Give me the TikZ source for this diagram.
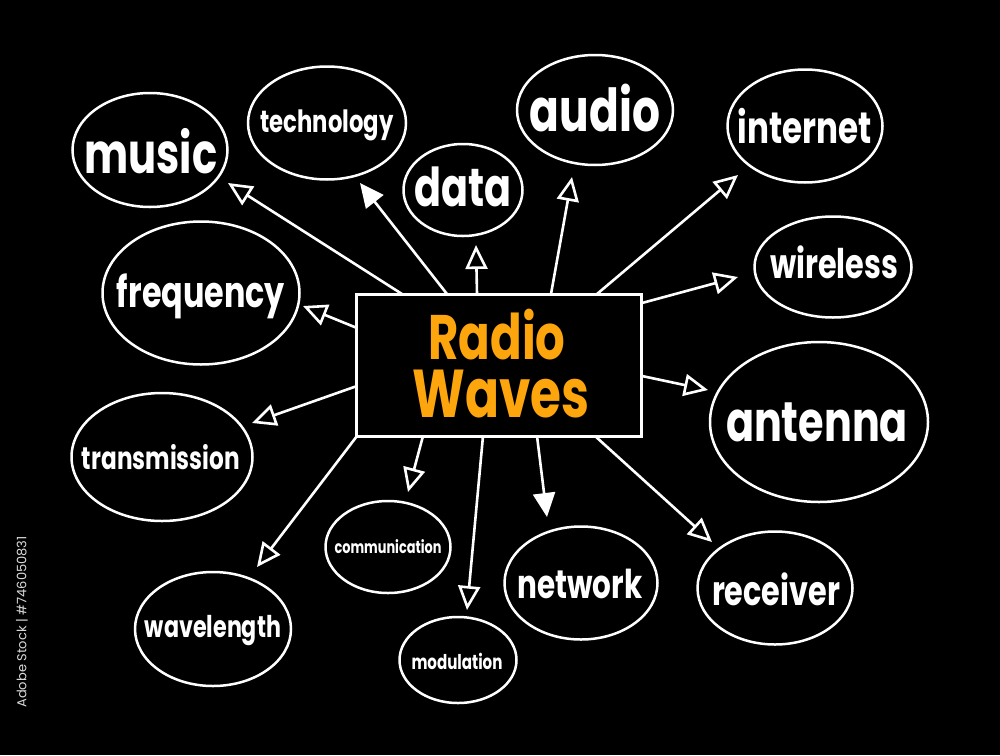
\documentclass[tikz,border=0pt]{standalone}
\usepackage{fontspec}
\setmainfont{Poppins}
\usetikzlibrary{shapes.geometric,arrows.meta}
\definecolor{ora}{RGB}{253,165,12}
\newcommand{\fitw}[2]{\scalebox{1}[1.35]{\resizebox{#1}{!}{#2}}}
\begin{document}
\begin{tikzpicture}[x=1pt,y=-1pt,
  bub/.style={ellipse, draw=white, line width=2.5pt, inner sep=0pt},
  txt/.style={text=white, font=\bfseries, inner sep=0pt},
  arr/.style={white, line width=2.6pt, -{Triangle[fill=black,length=24pt,width=22pt]}},
  arrf/.style={white, line width=2.6pt, -{Triangle[length=24pt,width=22pt]}}]
\fill[black] (0,0) rectangle (1000,755);
\useasboundingbox (0,0) rectangle (1000,755);
% central box
\node[draw=white, line width=3pt, minimum width=285pt, minimum height=142pt] (box) at (499,365) {};
\node[text=ora, font=\bfseries, inner sep=0pt, align=center] (title) at (501,364)
  {\hspace*{-8pt}\fitw{137pt}{Radio}\\[9pt]\fitw{177pt}{Waves}};
% bubbles
\node[bub, minimum width=155pt, minimum height=114pt] (music) at (150,150) {};
\node[txt] (musicT) at (151,151) {\fitw{133pt}{music}};
\node[bub, minimum width=158pt, minimum height=113pt] (technology) at (327,123) {};
\node[txt] (technologyT) at (327,125) {\fitw{133pt}{technology}};
\node[bub, minimum width=119pt, minimum height=92pt] (data) at (463,190) {};
\node[txt] (dataT) at (463,187) {\fitw{97pt}{data}};
\node[bub, minimum width=156pt, minimum height=110pt] (audio) at (595,110) {};
\node[txt] (audioT) at (595,108) {\fitw{130pt}{audio}};
\node[bub, minimum width=155pt, minimum height=113pt] (internet) at (805,126) {};
\node[txt] (internetT) at (805,126) {\fitw{134pt}{internet}};
\node[bub, minimum width=157pt, minimum height=101pt] (wireless) at (833,267) {};
\node[txt] (wirelessT) at (834,262) {\fitw{128pt}{wireless}};
\node[bub, minimum width=197pt, minimum height=143pt] (frequency) at (201,293) {};
\node[txt] (frequencyT) at (201,296) {\fitw{168pt}{frequency}};
\node[bub, minimum width=218pt, minimum height=160pt] (antenna) at (819,422) {};
\node[txt] (antennaT) at (817,422) {\fitw{182pt}{antenna}};
\node[bub, minimum width=181pt, minimum height=128pt] (transmission) at (162,457) {};
\node[txt] (transmissionT) at (161,457) {\fitw{158pt}{transmission}};
\node[bub, minimum width=125pt, minimum height=92pt] (communication) at (388,547) {};
\node[txt] (communicationT) at (388,547) {\fitw{107pt}{communication}};
\node[bub, minimum width=153pt, minimum height=113pt] (network) at (581,583) {};
\node[txt] (networkT) at (580,584) {\fitw{125pt}{network}};
\node[bub, minimum width=155pt, minimum height=113pt] (receiver) at (775,588) {};
\node[txt] (receiverT) at (776,589) {\fitw{128pt}{receiver}};
\node[bub, minimum width=156pt, minimum height=114pt] (wavelength) at (213,629) {};
\node[txt] (wavelengthT) at (213,631) {\fitw{136pt}{wavelength}};
\node[bub, minimum width=117pt, minimum height=86pt] (modulation) at (458,660) {};
\node[txt] (modulationT) at (457,661) {\fitw{91pt}{modulation}};
% arrow start points on box
\coordinate (s1) at (402,294);
\coordinate (s2) at (447,294);
\coordinate (s3) at (477,294);
\coordinate (s4) at (551,294);
\coordinate (s5) at (597,294);
\coordinate (s6) at (642,303);
\coordinate (s7) at (357,328);
\coordinate (s8) at (357,386);
\coordinate (s9) at (642,376);
\coordinate (s10) at (357,436);
\coordinate (s11) at (423,436);
\coordinate (s12) at (483,436);
\coordinate (s13) at (537,436);
\coordinate (s14) at (595,436);
% arrow tips
\coordinate (t1) at (228,183);
\coordinate (t2) at (360,183);
\coordinate (t3) at (476,245);
\coordinate (t4) at (572,177);
\coordinate (t5) at (738,175);
\coordinate (t6) at (738,277);
\coordinate (t7) at (303,306);
\coordinate (t8) at (252,423);
\coordinate (t9) at (708,390);
\coordinate (t10) at (257,567);
\coordinate (t11) at (408,492);
\coordinate (t12) at (467,610);
\coordinate (t13) at (547,517);
\coordinate (t14) at (712,542);
\draw[arr] (s1) -- (t1);
\draw[arrf] (s2) -- (t2);
\draw[arr] (s3) -- (t3);
\draw[arr] (s4) -- (t4);
\draw[arr] (s5) -- (t5);
\draw[arr] (s6) -- (t6);
\draw[arr] (s7) -- (t7);
\draw[arr] (s8) -- (t8);
\draw[arr] (s9) -- (t9);
\draw[arr] (s10) -- (t10);
\draw[arr] (s11) -- (t11);
\draw[arr] (s12) -- (t12);
\draw[arrf] (s13) -- (t13);
\draw[arr] (s14) -- (t14);
% side label
\node[rotate=90, text=white!85!black, font=\fontsize{13}{13}\selectfont] (side) at (22,622) {Adobe Stock | \#746050831};
\end{tikzpicture}
\end{document}
